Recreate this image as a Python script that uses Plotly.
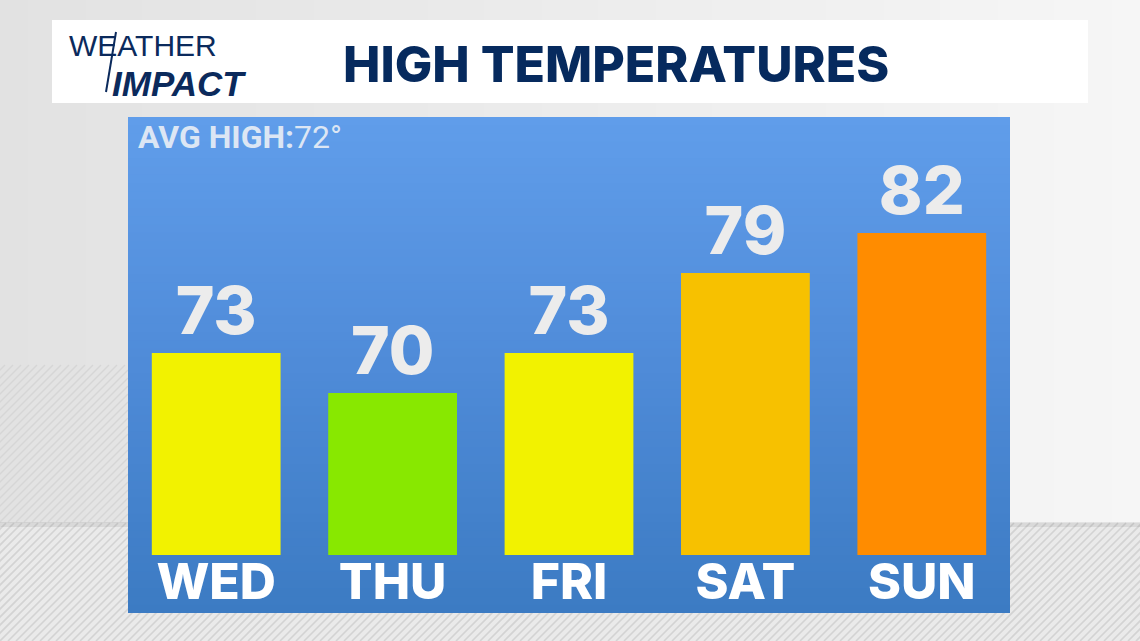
import plotly.graph_objects as go

# ---- data ----
days = ["WED", "THU", "FRI", "SAT", "SUN"]
highs = [73, 70, 73, 79, 82]
bar_colors = ["#F2F200", "#88E800", "#F2F200", "#F7C100", "#FF8C00"]
avg_high = 72
title_text = "HIGH TEMPERATURES"

W, H = 1140, 641
# plot area (pixels)
PL, PR, PT, PB = 128, 1010, 117, 555

def px(x):
    return (x - PL) / (PR - PL)

def py(y):
    return (PB - y) / (PB - PT)

def lerp(c1, c2, t):
    a = [int(c1[i:i + 2], 16) for i in (1, 3, 5)]
    b = [int(c2[i:i + 2], 16) for i in (1, 3, 5)]
    return "#%02x%02x%02x" % tuple(round(a[k] + (b[k] - a[k]) * t) for k in range(3))

shapes = []
# background horizontal gradient
n = 40
for i in range(n):
    x0 = W * i / n
    x1 = W * (i + 1) / n + 1
    shapes.append(dict(type="rect", xref="paper", yref="paper", x0=px(x0), x1=px(x1),
                       y0=py(H), y1=py(0), fillcolor=lerp("#E2E2E2", "#F6F6F6", i / (n - 1)),
                       line_width=0, layer="below"))
# lower band
shapes.append(dict(type="rect", xref="paper", yref="paper", x0=px(0), x1=px(W),
                   y0=py(H), y1=py(523), fillcolor="#EAEAEA", line_width=0, layer="below"))
# stripes in lower band
for k in range(-20, 160):
    x0 = k * 8.0
    shapes.append(dict(type="line", xref="paper", yref="paper",
                       x0=px(x0), y0=py(H), x1=px(x0 + (H - 523)), y1=py(523),
                       line=dict(color="#D3D3D3", width=1.6), layer="below"))
# stripes on left mid region
for k in range(-25, 17):
    x0 = k * 8.0
    xa, ya, xb, yb = x0, 522, x0 + 157, 365
    if xb > 128:
        f = (128 - xa) / (xb - xa)
        if f <= 0:
            continue
        xb, yb = 128, ya + (yb - ya) * f
    shapes.append(dict(type="line", xref="paper", yref="paper",
                       x0=px(xa), y0=py(ya), x1=px(xb), y1=py(yb),
                       line=dict(color="#D6D6D6", width=1.4), layer="below"))
# shadow line
shapes.append(dict(type="rect", xref="paper", yref="paper", x0=px(0), x1=px(W),
                   y0=py(527), y1=py(522), fillcolor="rgba(0,0,0,0.07)", line_width=0, layer="below"))

# header box
shapes.append(dict(type="rect", xref="paper", yref="paper", x0=px(52), x1=px(1088),
                   y0=py(103), y1=py(20), fillcolor="#FFFFFF", line_width=0, layer="below"))
# logo slash
shapes.append(dict(type="line", xref="paper", yref="paper", x0=px(116), y0=py(32),
                   x1=px(106), y1=py(92), line=dict(color="#0B2A5C", width=2), layer="above"))

# blue panel with vertical gradient
m = 60
top_c, mid_c, bot_c = "#609DEA", "#4F8BD8", "#3C7BC3"
for i in range(m):
    y0 = 117 + (613 - 117) * i / m
    y1 = 117 + (613 - 117) * (i + 1) / m + 1
    t = i / (m - 1)
    c = lerp(top_c, mid_c, t / 0.5) if t < 0.5 else lerp(mid_c, bot_c, (t - 0.5) / 0.5)
    shapes.append(dict(type="rect", xref="paper", yref="paper", x0=px(128), x1=px(1010),
                       y0=py(min(y1, 613)), y1=py(y0), fillcolor=c, line_width=0, layer="below"))

fig = go.Figure()
fig.add_trace(go.Bar(
    x=days, y=highs,
    marker=dict(color=bar_colors, line_width=0),
    text=[str(v) for v in highs],
    textposition="outside",
    textfont=dict(family="Inter", size=66, color="#ECECEC", weight=800),
    cliponaxis=False,
    constraintext="none",
    hoverinfo="skip",
))

annotations = [
    dict(text=title_text, xref="paper", yref="paper", x=px(616), y=py(64),
         xanchor="center", yanchor="middle", showarrow=False,
         font=dict(family="Inter", size=50, color="#062A5E", weight=800)),
    dict(text="<b>AVG HIGH:</b>%d°" % avg_high, xref="paper", yref="paper", x=px(136), y=py(137),
         xanchor="left", yanchor="middle", showarrow=False,
         font=dict(family="Roboto", size=32, color="#DCE6F4")),
    dict(text="WEATHER", xref="paper", yref="paper", x=px(67), y=py(45),
         xanchor="left", yanchor="middle", showarrow=False,
         font=dict(family="Liberation Sans", size=30, color="#0B2A5C")),
    dict(text="<b><i>IMPACT</i></b>", xref="paper", yref="paper", x=px(110), y=py(83),
         xanchor="left", yanchor="middle", showarrow=False,
         font=dict(family="Liberation Sans", size=35, color="#0B2A5C")),
]

fig.update_layout(
    width=W, height=H,
    margin=dict(l=PL, r=W - PR, t=PT, b=H - PB, pad=0),
    paper_bgcolor="#E6E6E6",
    plot_bgcolor="rgba(0,0,0,0)",
    bargap=0.27,
    showlegend=False,
    shapes=shapes,
    annotations=annotations,
    xaxis=dict(showgrid=False, zeroline=False, showline=False, ticks="",
               tickfont=dict(family="Inter", size=50, color="#FFFFFF", weight=800),
               ticklabelstandoff=-7,
               fixedrange=True),
    yaxis=dict(range=[57.85, 90.7], visible=False, fixedrange=True),
)

fig.write_html("out.html", config={"displayModeBar": False},
               post_script="document.body.style.margin='0';document.body.style.background='#E6E6E6';")
